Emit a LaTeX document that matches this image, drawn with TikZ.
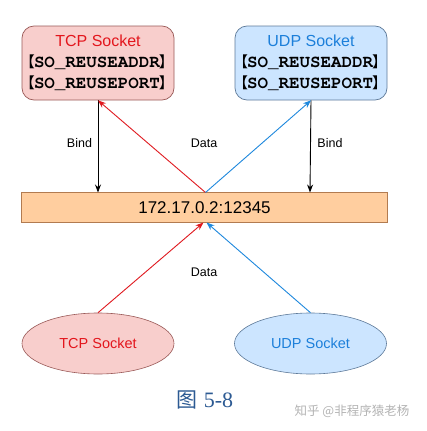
\documentclass[tikz,border=0pt]{standalone}
\usepackage{fontspec}
\setmainfont{Liberation Sans}
\newfontfamily\cjk{Noto Sans CJK SC}
\newfontfamily\monob[Extension=.otf, UprightFont=texgyrecursor-bold, BoldFont=texgyrecursor-bold]{texgyrecursor}
\newfontfamily\serifb{Liberation Serif}
\usetikzlibrary{arrows.meta,shapes.geometric}
\definecolor{tcpfill}{HTML}{F8CECC}
\definecolor{tcpdraw}{HTML}{9A5A58}
\definecolor{udpfill}{HTML}{CCE5FF}
\definecolor{udpdraw}{HTML}{5E7A99}
\definecolor{tcptext}{HTML}{E3161D}
\definecolor{udptext}{HTML}{1C7FDA}
\definecolor{redarr}{HTML}{E0191F}
\definecolor{bluearr}{HTML}{1E88DD}
\definecolor{barfill}{HTML}{FFCE9F}
\definecolor{bardraw}{HTML}{B27B50}
\definecolor{captc}{HTML}{2C5A93}
\definecolor{wmc}{HTML}{B4B4B4}
\tikzset{
  sockbox/.style={draw, rounded corners=12pt, minimum width=152pt, minimum height=74pt, inner sep=0pt, line width=0.7pt},
  sockell/.style={ellipse, draw, minimum width=152pt, minimum height=61pt, inner sep=0pt, line width=0.6pt},
  lbl/.style={font=\fontsize{12.5}{14}\selectfont, text=black},
  arr/.style={-{Stealth[length=8pt,width=6pt]}, line width=0.9pt},
}
\newcommand{\optline}[1]{\hspace*{-6pt}{\cjk\fontsize{15}{17}\selectfont 【}\hspace*{-1pt}{\monob\fontsize{17.5}{19}\selectfont #1}\hspace*{-1pt}{\cjk\fontsize{15}{17}\selectfont 】}\hspace*{-6pt}}
\begin{document}
\begin{tikzpicture}[x=1pt,y=-1pt]
\useasboundingbox (0,0) rectangle (426,431);
\fill[white] (0,0) rectangle (426,431);
% top boxes
\node[sockbox, fill=tcpfill, draw=tcpdraw] (tcpbox) at (98,63) {};
\node[sockbox, fill=udpfill, draw=udpdraw] (udpbox) at (311,63) {};
\node[text=tcptext, font=\fontsize{16}{18}\selectfont] (tcpt) at (98,41) {TCP Socket};
\node (tcpa) at (97,62.5) {\optline{SO\_REUSEADDR}};
\node (tcpb) at (97,83) {\optline{SO\_REUSEPORT}};
\node[text=udptext, font=\fontsize{16}{18}\selectfont] (udpt) at (311,41) {UDP Socket};
\node (udpa) at (310,62.5) {\optline{SO\_REUSEADDR}};
\node (udpb) at (310,83) {\optline{SO\_REUSEPORT}};
% bar
\node[draw=bardraw, fill=barfill, minimum width=366pt, minimum height=30pt, inner sep=0pt, line width=0.7pt] (bar) at (204.5,207.5) {};
\node[font=\fontsize{17}{19}\selectfont] (addr) at (204.5,207.5) {172.17.0.2:12345};
% bottom ellipses
\node[sockell, fill=tcpfill, draw=tcpdraw] (tcpe) at (98,343.5) {};
\node[text=tcptext, font=\fontsize{14.5}{16}\selectfont] (tcpet) at (98,343.5) {TCP Socket};
\node[sockell, fill=udpfill, draw=udpdraw] (udpe) at (310.5,343.5) {};
\node[text=udptext, font=\fontsize{14.5}{16}\selectfont] (udpet) at (310.5,343.5) {UDP Socket};
% coordinates on bar
\coordinate (bl) at (98,192.5);
\coordinate (br) at (310,192.5);
\coordinate (btop) at (205.5,192.5);
\coordinate (bbotl) at (203.5,222.5);
\coordinate (bbotr) at (206.5,222.5);
% bind arrows
\draw[arr, black] (tcpbox.south) -- (bl);
\draw[arr, black] (udpbox.south) -- (br);
% data up arrows
\draw[arr, redarr] (btop) -- (tcpbox.south);
\draw[arr, bluearr] (btop) -- (udpbox.south);
\draw[arr, redarr] (tcpe.north) -- (bbotl);
\draw[arr, bluearr] (udpe.north) -- (bbotr);
% labels
\node[lbl] (bind1) at (79.5,143) {Bind};
\node[lbl] (data1) at (204,143) {Data};
\node[lbl] (bind2) at (330,143) {Bind};
\node[lbl] (data2) at (204,272) {Data};
% caption
\node[text=captc] (cap) at (205,400) {{\cjk\fontsize{21}{24}\selectfont 图}\hspace{6pt}{\serifb\fontsize{22}{24}\selectfont 5-8}};
\node[text=wmc, font=\cjk\fontsize{12.5}{14}\selectfont] (wm) at (352,411) {知乎 @非程序猿老杨};
\end{tikzpicture}
\end{document}
